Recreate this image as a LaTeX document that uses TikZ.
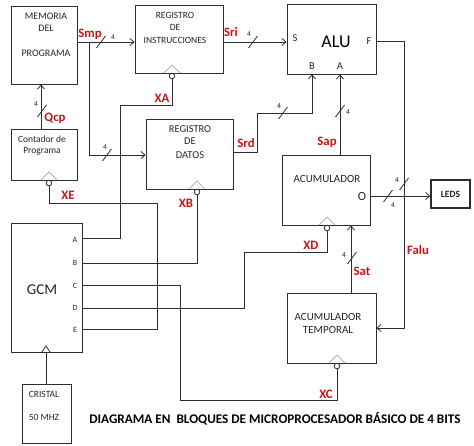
\documentclass[tikz,border=0pt]{standalone}
\usepackage{fontspec}
\setmainfont{Carlito}
\usetikzlibrary{arrows.meta}
\definecolor{lblred}{RGB}{200,20,20}
\definecolor{lnc}{RGB}{45,45,45}
\newcommand\mslash[2]{\draw[ln] (#1-4.5,#2+6) -- (#1+4.5,#2-6);}
\newcommand\clktri[2]{\draw[gray!60, line width=0.8pt] (#1-8,#2) -- (#1,#2-8) -- (#1+8,#2);}
\begin{document}
\begin{tikzpicture}[x=1pt,y=-1pt,
  box/.style={draw=lnc, line width=0.8pt, rectangle, inner sep=0pt, fill=white},
  ln/.style={draw=lnc, line width=0.8pt},
  arr/.style={ln, -{Straight Barb[length=4pt,width=7pt]}},
  txt/.style={font=\fontsize{9.5}{11}\selectfont, text=black!85, inner sep=0pt},
  txtl/.style={font=\fontsize{10.5}{12}\selectfont, text=black!85, inner sep=0pt},
  pin/.style={font=\fontsize{8}{9}\selectfont, text=black!85, inner sep=0pt},
  lab/.style={font=\fontsize{12.8}{14}\selectfont\bfseries, text=lblred, inner sep=0pt},
  num/.style={font=\fontsize{7.5}{9}\selectfont, text=black!85, inner sep=0pt},
  bub/.style={circle, draw=lnc, line width=0.8pt, fill=white, inner sep=0pt, minimum size=5.6pt}
]
\useasboundingbox[fill=white] (0,0) rectangle (474,446);

% boxes
\node[box, minimum width=66pt, minimum height=78pt] (mem) at (44,45) {};
\node[box, minimum width=88pt, minimum height=68pt] (ri) at (179,39) {};
\node[box, minimum width=89pt, minimum height=70pt] (alu) at (331.5,39) {};
\node[box, minimum width=66pt, minimum height=51pt] (cp) at (44,154.5) {};
\node[box, minimum width=87pt, minimum height=70pt] (rd) at (189.5,154) {};
\node[box, minimum width=88pt, minimum height=70pt] (acc) at (326,190) {};
\node[box, line width=1.4pt, minimum width=39pt, minimum height=28pt] (leds) at (450.5,194) {};
\node[box, minimum width=71pt, minimum height=129pt] (gcm) at (46.5,287.5) {};
\node[box, minimum width=89pt, minimum height=70pt] (at) at (331.5,328) {};
\node[box, minimum width=49pt, minimum height=59pt] (cris) at (46.5,413.5) {};

% box texts
\node[txt, font=\fontsize{10}{11}\selectfont] (memA) at (46,16) {MEMORIA};
\node[txt, font=\fontsize{10}{11}\selectfont] (memB) at (46,28) {DEL};
\node[txt, font=\fontsize{10}{11}\selectfont] (memC) at (46,53) {PROGRAMA};
\node[txt] (riA) at (175,15) {REGISTRO};
\node[txt] (riB) at (175,27) {DE};
\node[txt] (riC) at (175,40) {INSTRUCCIONES};
\node[font=\fontsize{18}{20}\selectfont, inner sep=0pt] (aluT) at (336,42) {ALU};
\node[txtl] (aluS) at (295,38) {S};
\node[txtl] (aluF) at (369,41) {F};
\node[txtl] (aluB) at (312,66) {B};
\node[txtl] (aluA) at (340,66) {A};
\node[txt] (cpA) at (42,139) {Contador de};
\node[txt] (cpB) at (42,151) {Programa};
\node[txtl] (rdA) at (190,129) {REGISTRO};
\node[txtl] (rdB) at (190,141.5) {DE};
\node[txtl] (rdC) at (190,155) {DATOS};
\node[txt, font=\fontsize{11}{12}\selectfont] (accT) at (327,179) {ACUMULADOR};
\node[txt, font=\fontsize{12.5}{14}\selectfont] (accO) at (362,196) {O};
\node[txt, font=\fontsize{9.5}{11}\selectfont\bfseries] (ledsT) at (450.5,194) {LEDS};
\node[font=\fontsize{15}{17}\selectfont, inner sep=0pt, text=black!85] (gcmT) at (42,290) {GCM};
\node[pin] (pA) at (75,240) {A};
\node[pin] (pB) at (75,263) {B};
\node[pin] (pC) at (75,285.5) {C};
\node[pin] (pD) at (75,308) {D};
\node[pin] (pE) at (75,330) {E};
\node[txt, font=\fontsize{11}{12}\selectfont] (atA) at (328,316.5) {ACUMULADOR};
\node[txt, font=\fontsize{11}{12}\selectfont] (atB) at (328,330) {TEMPORAL};
\node[txt] (crA) at (44,394) {CRISTAL};
\node[txt] (crB) at (44,417) {50 MHZ};
\node[font=\fontsize{13.2}{15}\selectfont\bfseries, inner sep=0pt] (title) at (275,419) {DIAGRAMA EN\ \ BLOQUES DE MICROPROCESADOR BÁSICO DE 4 BITS};

% data connectors
\draw[arr] (mem.east |- 0,42) -- (ri.west |- 0,42);
\draw[arr] (89,42) -- (89,155) -- (rd.west |- 0,155);
\draw[arr] (ri.east |- 0,42) -- (alu.west |- 0,42);
\draw[arr] (rd.east |- 0,152) -- (257,152) -- (257,113) -- (312,113) -- (312,0 |- alu.south);
\draw[arr] (340,0 |- acc.north) -- (340,0 |- alu.south);
\draw[arr] (alu.east |- 0,41) -- (404,41) -- (404,328) -- (at.east |- 0,328);
\draw[arr] (acc.east |- 0,196) -- (leds.west |- 0,196);
\draw[arr] (351,0 |- at.north) -- (351,0 |- acc.south);
\draw[arr] (41,0 |- cp.north) -- (41,0 |- mem.south);
\draw[ln] (46,0 |- cris.north) -- (46,0 |- gcm.south);

% clock symbols
\clktri{172}{73}
\clktri{49}{180}
\clktri{197}{189}
\clktri{327}{225}
\clktri{337}{363}
\draw[lnc, line width=0.7pt] (42,352) -- (46,346) -- (50,352);
\node[bub] (ckA) at (172,76) {};
\node[bub] (ckE) at (49,183) {};
\node[bub] (ckB) at (197,192) {};
\node[bub] (ckD) at (327,228) {};
\node[bub] (ckC) at (337,366) {};

% control connectors
\draw[ln] (ckA.south) -- (172,105) -- (120,105) -- (120,238) -- (gcm.east |- 0,238);
\draw[ln] (ckE.south) -- (49,203) -- (157,203) -- (157,329.5) -- (gcm.east |- 0,329.5);
\draw[ln] (ckB.south) -- (197,263) -- (gcm.east |- 0,263);
\draw[ln] (ckD.south) -- (327,252) -- (244,252) -- (244,308) -- (gcm.east |- 0,308);
\draw[ln] (ckC.south) -- (337,400) -- (180,400) -- (180,285.5) -- (gcm.east |- 0,285.5);

% bus width marks
\mslash{101}{42}  \node[num] (n1) at (113,37) {4};
\mslash{42}{111}  \node[num] (n2) at (36,104) {4};
\mslash{253}{42}  \node[num] (n3) at (249,34) {4};
\mslash{283}{113} \node[num] (n4) at (279,106) {4};
\mslash{340}{111} \node[num] (n5) at (348,112) {4};
\mslash{107}{155} \node[num] (n6) at (105,147) {4};
\mslash{388}{196} \node[num] (n7) at (393,205) {4};
\mslash{404}{184} \node[num] (n8) at (397,180) {4};
\mslash{352}{258} \node[num] (n9) at (344,255) {4};

% signal labels
\node[lab] (lSmp) at (90,34) {Smp};
\node[lab] (lSri) at (231,32) {Sri};
\node[lab] (lXA) at (162,98) {XA};
\node[lab] (lQcp) at (55,118) {Qcp};
\node[lab] (lXE) at (68,195) {XE};
\node[lab] (lSrd) at (246,143) {Srd};
\node[lab] (lXB) at (186,203) {XB};
\node[lab] (lSap) at (327,142) {Sap};
\node[lab] (lXD) at (311,245) {XD};
\node[lab] (lSat) at (362,271) {Sat};
\node[lab] (lFalu) at (418,250) {Falu};
\node[lab] (lXC) at (326,394) {XC};
\end{tikzpicture}
\end{document}
